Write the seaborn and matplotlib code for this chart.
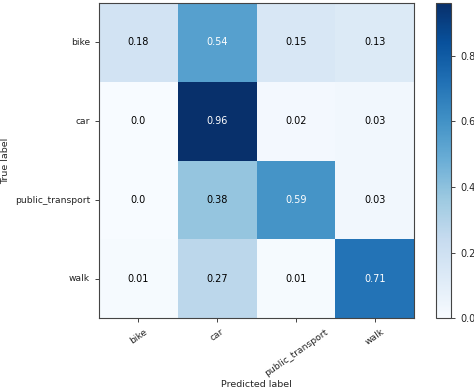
import numpy as np
import matplotlib
matplotlib.use("Agg")
import matplotlib.pyplot as plt
import seaborn as sns

# confusion matrix (normalized)
classes = ['bike', 'car', 'public_transport', 'walk']
row_bike = [0.18, 0.54, 0.15, 0.13]
row_car = [0.0, 0.96, 0.02, 0.03]
row_public_transport = [0.0, 0.38, 0.59, 0.03]
row_walk = [0.01, 0.27, 0.01, 0.71]

cm = np.array([row_bike, row_car, row_public_transport, row_walk])
labels = np.array([[str(v) for v in row] for row in cm])

sns.set_style("white")
plt.rcParams['font.family'] = ['DejaVu Sans']

fig = plt.figure(figsize=(4.74, 3.88), dpi=100)
ax = fig.add_axes([0.209, 0.180, 0.665, 0.812])
cax = fig.add_axes([0.920, 0.180, 0.032, 0.812])

sns.heatmap(cm, ax=ax, cbar_ax=cax, cmap='Blues', annot=labels, fmt='',
            annot_kws={'fontsize': 7}, xticklabels=classes, yticklabels=classes,
            square=False)

# white text on dark cells, black on light (threshold = max / 2)
thresh = cm.max() / 2.
for txt, val in zip(ax.texts, cm.flatten()):
    txt.set_color('white' if val > thresh else 'black')

for spine in ax.spines.values():
    spine.set_visible(True)
    spine.set_color('#444444')
    spine.set_linewidth(0.8)

ax.tick_params(axis='both', length=3, width=0.6, labelsize=6.6, direction='out',
               bottom=True, left=True, colors='#222222')
plt.setp(ax.get_xticklabels(), rotation=35, ha='center')
plt.setp(ax.get_yticklabels(), rotation=0)
ax.set_ylabel('True label', fontsize=6.8)
ax.set_xlabel('Predicted label', fontsize=6.8)
ax.yaxis.set_label_coords(-0.283, 0.5)
ax.xaxis.set_label_coords(0.5, -0.195)

cbar = ax.collections[0].colorbar
cbar.set_ticks([0.0, 0.2, 0.4, 0.6, 0.8])
cbar.set_ticklabels(['0.0', '0.2', '0.4', '0.6', '0.8'])
cax.tick_params(labelsize=7, length=3, width=0.6, right=True)
cbar.outline.set_visible(True)
cbar.outline.set_edgecolor('#444444')
cbar.outline.set_linewidth(0.8)

fig.savefig('out.png', dpi=100)
